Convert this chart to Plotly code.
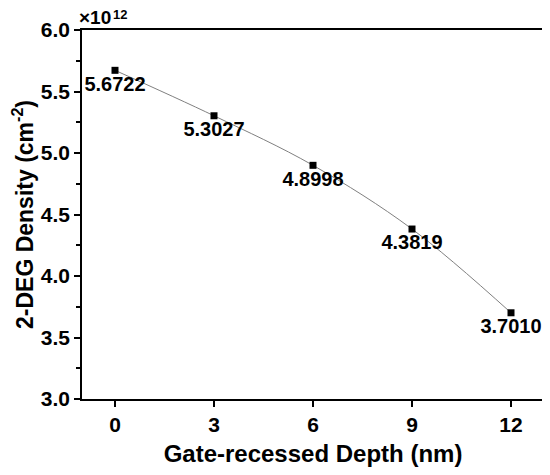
import plotly.graph_objects as go

# Gate-recessed depth (nm) vs 2-DEG density (x10^12 cm^-2)
depth = [0, 3, 6, 9, 12]
density = [5.6722, 5.3027, 4.8998, 4.3819, 3.7010]
labels = ["5.6722", "5.3027", "4.8998", "4.3819", "3.7010"]

x_ticks = [0, 3, 6, 9, 12]
y_ticks = [3.0, 3.5, 4.0, 4.5, 5.0, 5.5, 6.0]

FONT = "Liberation Sans, Arial, sans-serif"

fig = go.Figure()
fig.add_trace(go.Scatter(
    x=depth, y=density,
    mode="lines+markers+text",
    line=dict(color="#808080", width=1, shape="spline"),
    marker=dict(color="black", size=7, symbol="square"),
    text=[f"<b>{t}</b>" for t in labels],
    textposition="bottom center",
    textfont=dict(family=FONT, size=20, color="black"),
    showlegend=False,
))

axis_common = dict(
    showline=True, linecolor="black", linewidth=1.5, mirror=True,
    ticks="outside", ticklen=6, tickwidth=1.5, tickcolor="black",
    showgrid=False, zeroline=False,
    tickfont=dict(family=FONT, size=21, color="black", weight="bold"),
)

# page body has an 8px default margin, so the figure is sized to fit the window
fig.update_layout(
    width=542, height=467,
    plot_bgcolor="white", paper_bgcolor="white",
    margin=dict(l=74, r=4, t=22, b=76),
    xaxis=dict(
        range=[-1, 13], tickvals=x_ticks,
        title=dict(text="<b>Gate-recessed Depth (nm)</b>", standoff=10,
                   font=dict(family=FONT, size=24, color="black")),
        **axis_common,
    ),
    yaxis=dict(
        range=[3, 6], tickvals=y_ticks, tickformat=".1f",
        minor=dict(ticks="outside", ticklen=4, tickwidth=1.5, tickcolor="black", dtick=0.25),
        title=dict(text="<b>2-DEG Density (cm<sup>-2</sup>)</b>", standoff=6,
                   font=dict(family=FONT, size=23, color="black")),
        **axis_common,
    ),
    # axis multiplier, drawn as two pieces so the exponent fits in the top margin
    annotations=[
        dict(text="<b>×10</b>", xref="paper", yref="paper",
             x=-0.011, y=1.0, xanchor="left", yanchor="bottom", showarrow=False,
             font=dict(family=FONT, size=19, color="black")),
        dict(text="<b>12</b>", xref="paper", yref="paper",
             x=0.062, y=1.0, xanchor="left", yanchor="bottom", showarrow=False,
             yshift=6, font=dict(family=FONT, size=13, color="black")),
    ],
)

fig.write_html("out.html")
